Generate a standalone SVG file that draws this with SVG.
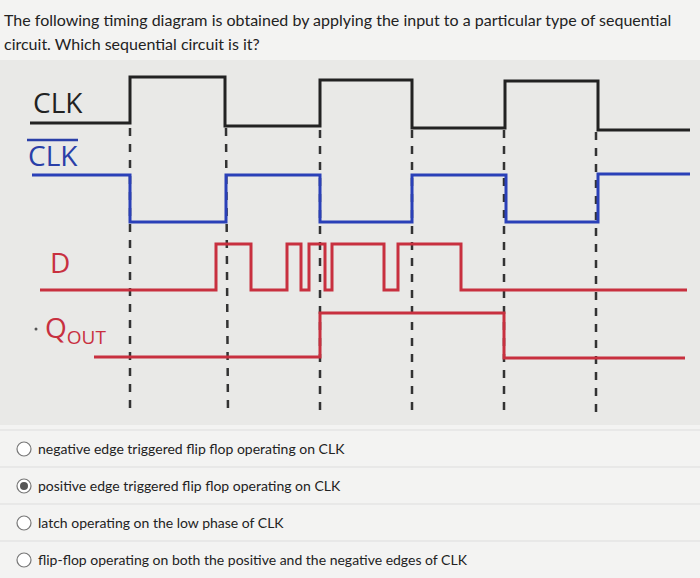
<svg xmlns="http://www.w3.org/2000/svg" width="700" height="578" viewBox="0 0 700 578">
<style>
.t{font-family:Lato,"Liberation Sans",sans-serif;fill:#222}
.w{fill:none;stroke-width:3;stroke-linejoin:miter}
.d{stroke:#333;stroke-width:2.5;stroke-dasharray:8 8}
.sep{stroke:#ddd;stroke-width:1}
.r{fill:#fff;stroke:#777;stroke-width:1.2}
</style>
<rect width="700" height="578" fill="#f3f3f2"/>
<rect x="0" y="60" width="700" height="365" fill="#e9e9e7"/>
<g id="title">
<text class="t" x="4" y="26" font-size="16">The following timing diagram is obtained by applying the input to a particular type of sequential</text>
<text class="t" x="4" y="50" font-size="16">circuit. Which sequential circuit is it?</text>
</g>
<g id="dashes">
<line class="d" x1="130" y1="128" x2="130" y2="415"/>
<line class="d" x1="226" y1="128" x2="228" y2="415"/>
<line class="d" x1="320" y1="130" x2="320" y2="415"/>
<line class="d" x1="412" y1="130" x2="412" y2="415"/>
<line class="d" x1="504" y1="130" x2="504" y2="415"/>
<line class="d" x1="596" y1="132" x2="596" y2="415"/>
</g>
<g id="clk">
<text x="33" y="113" font-size="28" font-family="Open Sans,Liberation Sans,sans-serif" fill="#222">CLK</text>
<polyline class="w" stroke="#222" points="30,123 130,123 130,77 225,77 225,126 320,126 320,80 412,80 412,128 505,128 505,81 598,81 598,130 690,130"/>
</g>
<g id="clkbar">
<text x="28" y="166" font-size="28" font-family="Open Sans,Liberation Sans,sans-serif" fill="#2a3fa8">CLK</text>
<line x1="27" y1="140" x2="78" y2="140" stroke="#2a3fa8" stroke-width="2.5"/>
<polyline class="w" stroke="#2a40b8" points="32,175 130,175 130,222 226,222 226,175 320,175 320,222 412,222 412,175 506,175 506,222 598,222 598,174 690,174"/>
</g>
<g id="d">
<text x="50" y="273" font-size="28" font-family="Open Sans,Liberation Sans,sans-serif" fill="#c8303f">D</text>
<polyline class="w" stroke="#c8303f" points="40,290 216,290 216,244 251,244 251,290 287,290 287,244 301,244 301,290 309,290 309,244 325,244 325,290 332,290 332,244 384,244 384,290 398,290 398,244 461,244 461,290 687,290"/>
</g>
<g id="qout">
<circle cx="36" cy="329" r="1.5" fill="#555"/>
<text x="45" y="338" font-size="28" font-family="Open Sans,Liberation Sans,sans-serif" fill="#c8303f">Q<tspan font-size="19" dy="6">OUT</tspan></text>
<polyline class="w" stroke="#c8303f" points="94,357 320,357 320,313 504,313 504,358 685,358"/>
</g>
<g id="options">
<line class="sep" x1="0" y1="430" x2="700" y2="430"/>
<line class="sep" x1="0" y1="467" x2="700" y2="467"/>
<line class="sep" x1="0" y1="504" x2="700" y2="504"/>
<line class="sep" x1="0" y1="541" x2="700" y2="541"/>
<circle class="r" cx="24" cy="449" r="7"/>
<circle class="r" cx="24" cy="486" r="7"/>
<circle cx="24" cy="486" r="4" fill="#555"/>
<circle class="r" cx="24" cy="523" r="7"/>
<circle class="r" cx="24" cy="560" r="7"/>
<text class="t" x="38" y="454" font-size="14">negative edge triggered flip flop operating on CLK</text>
<text class="t" x="38" y="491" font-size="14">positive edge triggered flip flop operating on CLK</text>
<text class="t" x="38" y="528" font-size="14">latch operating on the low phase of CLK</text>
<text class="t" x="38" y="565" font-size="14">flip-flop operating on both the positive and the negative edges of CLK</text>
</g>
</svg>
